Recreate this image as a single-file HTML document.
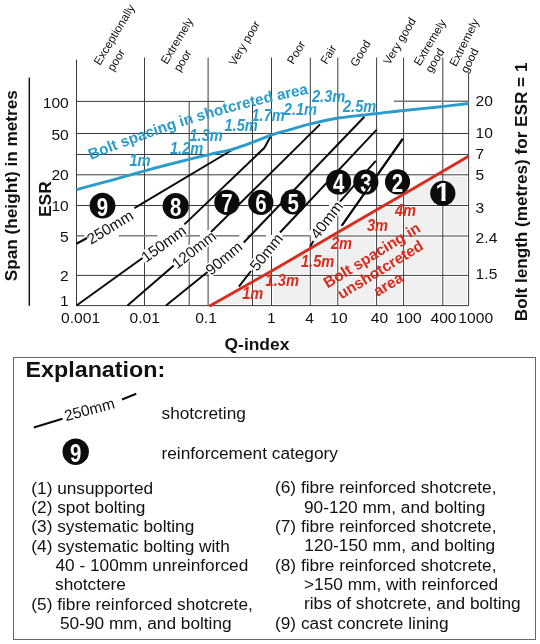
<!DOCTYPE html>
<html lang="en"><head><meta charset="utf-8"><title>Q-index support chart</title>
<style>html,body{margin:0;padding:0;background:#fff}svg{display:block}text{font-family:"Liberation Sans", Arial, sans-serif}</style></head><body>
<svg width="540" height="644" viewBox="0 0 540 644">
<rect width="540" height="644" fill="#fff"/>
<defs><clipPath id="gz"><polygon points="209.2,306.3 470.5,155.3 470.5,306.8"/></clipPath><clipPath id="c1"><path d="M-9,-20 H9 V-3.6 H2.5 V1 H-1.3 V-3.6 H-9 Z"/></clipPath></defs>
<polygon points="209.2,306.3 470.5,155.3 470.5,306.8" fill="#f0f0f0"/>
<g clip-path="url(#gz)" stroke="#fff" stroke-width="3.2" fill="none">
<line x1="76.5" y1="59.5" x2="76.5" y2="305.6"/>
<line x1="144.5" y1="57.5" x2="144.5" y2="305.6"/>
<line x1="189.2" y1="101.3" x2="189.2" y2="305.6"/>
<line x1="208.1" y1="57.5" x2="208.1" y2="305.6"/>
<line x1="252.5" y1="101.3" x2="252.5" y2="305.6"/>
<line x1="271.5" y1="57.5" x2="271.5" y2="305.6"/>
<line x1="310.3" y1="57.5" x2="310.3" y2="305.6"/>
<line x1="337.8" y1="57.5" x2="337.8" y2="305.6"/>
<line x1="376.6" y1="57.5" x2="376.6" y2="305.6"/>
<line x1="403.6" y1="57.5" x2="403.6" y2="305.6"/>
<line x1="442.8" y1="57.5" x2="442.8" y2="305.6"/>
<line x1="468.6" y1="72.5" x2="468.6" y2="305.6"/>
<line x1="76.5" y1="133.5" x2="468.6" y2="133.5"/>
<line x1="76.5" y1="154.5" x2="468.6" y2="154.5"/>
<line x1="76.5" y1="174.8" x2="468.6" y2="174.8"/>
<line x1="76.5" y1="205.5" x2="468.6" y2="205.5"/>
<line x1="76.5" y1="275.4" x2="468.6" y2="275.4"/>
<line x1="76.5" y1="305.6" x2="468.6" y2="305.6"/>
<line x1="76.5" y1="236" x2="468.6" y2="236"/>
</g>
<g stroke="#3c3c3c" stroke-width="1" fill="none">
<line x1="76.5" y1="59.5" x2="76.5" y2="305.6"/>
<line x1="144.5" y1="57.5" x2="144.5" y2="305.6"/>
<line x1="189.2" y1="101.3" x2="189.2" y2="305.6"/>
<line x1="208.1" y1="57.5" x2="208.1" y2="305.6"/>
<line x1="252.5" y1="101.3" x2="252.5" y2="305.6"/>
<line x1="271.5" y1="57.5" x2="271.5" y2="305.6"/>
<line x1="310.3" y1="57.5" x2="310.3" y2="305.6"/>
<line x1="337.8" y1="57.5" x2="337.8" y2="305.6"/>
<line x1="376.6" y1="57.5" x2="376.6" y2="305.6"/>
<line x1="403.6" y1="57.5" x2="403.6" y2="305.6"/>
<line x1="442.8" y1="57.5" x2="442.8" y2="305.6"/>
<line x1="468.6" y1="72.5" x2="468.6" y2="305.6"/>
<line x1="76.5" y1="133.5" x2="468.6" y2="133.5"/>
<line x1="76.5" y1="154.5" x2="468.6" y2="154.5"/>
<line x1="76.5" y1="174.8" x2="468.6" y2="174.8"/>
<line x1="76.5" y1="205.5" x2="468.6" y2="205.5"/>
<line x1="76.5" y1="275.4" x2="468.6" y2="275.4"/>
<line x1="76.5" y1="305.6" x2="468.6" y2="305.6"/>
<line x1="76.5" y1="101.4" x2="224.5" y2="101.4"/>
<line x1="329" y1="236" x2="468.6" y2="236"/>
</g>
<g stroke="#777" stroke-width="1.4" fill="none">
<line x1="394" y1="101.3" x2="468.6" y2="101.3"/>
<line x1="76.5" y1="235.8" x2="86" y2="235.8" stroke="#808080" stroke-width="1.6"/>
<line x1="118.75" y1="235.8" x2="157.5" y2="235.8" stroke="#808080" stroke-width="1.6"/>
<line x1="183.75" y1="235.8" x2="200" y2="235.8" stroke="#808080" stroke-width="1.6"/>
<line x1="211.9" y1="235.8" x2="239.3" y2="235.8" stroke="#808080" stroke-width="1.6"/>
<line x1="247.4" y1="235.8" x2="266" y2="235.8" stroke="#808080" stroke-width="1.6"/>
<line x1="282.6" y1="235.8" x2="311.3" y2="235.8" stroke="#808080" stroke-width="1.6"/>
</g>
<line x1="29.3" y1="77.6" x2="29.3" y2="305.8" stroke="#151515" stroke-width="1.5"/>
<g transform="translate(91,245) rotate(-31.5)"><rect x="-1" y="-11.934000000000001" width="52" height="13.158000000000001" fill="#fff"/><text x="0" y="0" font-size="15.3" fill="#111" font-weight="normal" font-style="normal" text-anchor="start" >250mm</text></g>
<g transform="translate(146,263) rotate(-36)"><rect x="-1" y="-11.934000000000001" width="52" height="13.158000000000001" fill="#fff"/><text x="0" y="0" font-size="15.3" fill="#111" font-weight="normal" font-style="normal" text-anchor="start" >150mm</text></g>
<g transform="translate(177,269.5) rotate(-38)"><rect x="-1" y="-11.934000000000001" width="52" height="13.158000000000001" fill="#fff"/><text x="0" y="0" font-size="15.3" fill="#111" font-weight="normal" font-style="normal" text-anchor="start" >120mm</text></g>
<g transform="translate(211,276) rotate(-40)"><rect x="-1" y="-11.934000000000001" width="44" height="13.158000000000001" fill="#fff"/><text x="0" y="0" font-size="15.3" fill="#111" font-weight="normal" font-style="normal" text-anchor="start" >90mm</text></g>
<g transform="translate(257,272) rotate(-51)"><rect x="-1" y="-11.934000000000001" width="44" height="13.158000000000001" fill="#fff"/><text x="0" y="0" font-size="15.3" fill="#111" font-weight="normal" font-style="normal" text-anchor="start" >50mm</text></g>
<g transform="translate(318,240) rotate(-53)"><rect x="-1" y="-11.934000000000001" width="44" height="13.158000000000001" fill="#fff"/><text x="0" y="0" font-size="15.3" fill="#111" font-weight="normal" font-style="normal" text-anchor="start" >40mm</text></g>
<g stroke="#0a0a0a" stroke-width="2.0" fill="none" stroke-linecap="butt">
<polyline points="76.5,243.75 87,238"/>
<polyline points="134.4,208.2 232.8,149.5"/>
<polyline points="76.5,305.5 142.5,258"/>
<polyline points="184.4,224.4 264.4,147.8 271.1,135.6"/>
<polyline points="127.5,305.5 173.75,265.5"/>
<polyline points="211,232 320,124.4"/>
<polyline points="166,305.5 207.5,272"/>
<polyline points="243.75,242.5 364.4,116.7"/>
<polyline points="238.9,286.7 251,271"/>
<polyline points="280,232.5 376.7,129.6"/>
<polyline points="310,246.7 313.5,241"/>
<polyline points="340,201.7 375.7,160.8"/>
<polyline points="341.7,225.8 402.7,138.9"/>
</g>
<path d="M76.5,189.7 C82.6,188.0 100.8,183.2 113.0,179.8 C125.2,176.4 137.3,172.8 150.0,169.4 C162.7,166.0 179.0,161.8 189.0,159.3 C199.0,156.8 202.7,156.0 210.0,154.3 C217.3,152.6 225.7,151.2 233.0,149.1 C240.3,147.0 247.2,144.3 253.7,141.9 C260.2,139.5 265.8,136.9 271.9,134.9 C277.9,132.9 283.6,131.5 290.0,129.7 C296.4,127.9 302.2,125.9 310.3,123.9 C318.4,122.0 329.3,119.5 338.3,118.0 C347.3,116.5 357.8,115.8 364.3,115.0 C370.8,114.2 370.6,114.2 377.2,113.5 C383.8,112.8 394.2,111.5 404.0,110.5 C413.8,109.5 425.2,108.4 436.0,107.2 C446.8,106.0 463.2,104.1 468.6,103.5" stroke="#2a9bcb" stroke-width="2.9" fill="none"/>
<polyline points="209.2,306.3 271.2,271.2 341,230.6 410,190.5 468.5,156.3" stroke="#d62d1e" stroke-width="2.9" fill="none"/>
<circle cx="102.5" cy="205.7" r="12.9" fill="#0c0c0c"/><text transform="translate(102.5,215.6) scale(0.8,1)" font-size="25.5" font-weight="bold" fill="#fff" text-anchor="middle">9</text>
<circle cx="175.7" cy="206" r="13.1" fill="#0c0c0c"/><text transform="translate(175.7,215.9) scale(0.8,1)" font-size="25.5" font-weight="bold" fill="#fff" text-anchor="middle">8</text>
<circle cx="226.9" cy="202.4" r="12.6" fill="#0c0c0c"/><text transform="translate(226.9,212.3) scale(0.8,1)" font-size="25.5" font-weight="bold" fill="#fff" text-anchor="middle">7</text>
<circle cx="260.8" cy="202.4" r="12.6" fill="#0c0c0c"/><text transform="translate(260.8,212.3) scale(0.8,1)" font-size="25.5" font-weight="bold" fill="#fff" text-anchor="middle">6</text>
<circle cx="293.1" cy="201.8" r="12.6" fill="#0c0c0c"/><text transform="translate(293.1,211.70000000000002) scale(0.8,1)" font-size="25.5" font-weight="bold" fill="#fff" text-anchor="middle">5</text>
<circle cx="338.6" cy="182" r="12.6" fill="#0c0c0c"/><text transform="translate(338.6,191.9) scale(0.8,1)" font-size="25.5" font-weight="bold" fill="#fff" text-anchor="middle">4</text>
<circle cx="365.8" cy="182" r="12.6" fill="#0c0c0c"/><text transform="translate(365.8,191.9) scale(0.8,1)" font-size="25.5" font-weight="bold" fill="#fff" text-anchor="middle">3</text>
<circle cx="397.5" cy="181.8" r="12.6" fill="#0c0c0c"/><text transform="translate(397.5,191.70000000000002) scale(0.8,1)" font-size="25.5" font-weight="bold" fill="#fff" text-anchor="middle">2</text>
<circle cx="442.8" cy="193.3" r="12.6" fill="#0c0c0c"/><g transform="translate(442.8,201.05) scale(1.1,1)" clip-path="url(#c1)"><text font-size="24.9" font-weight="bold" fill="#fff" text-anchor="middle">1</text></g>
<polyline points="341.7,225.8 402.7,138.9" stroke="#0a0a0a" stroke-width="2.0" fill="none"/>
<g font-size="15.1" fill="#111">
<text transform="translate(68.8,107.5) scale(1.035,1)" text-anchor="end">100</text>
<text transform="translate(68.8,139.5) scale(1.035,1)" text-anchor="end">50</text>
<text transform="translate(68.8,179.5) scale(1.035,1)" text-anchor="end">20</text>
<text transform="translate(68.8,210.7) scale(1.035,1)" text-anchor="end">10</text>
<text transform="translate(68.8,242) scale(1.035,1)" text-anchor="end">5</text>
<text transform="translate(68.8,281.3) scale(1.035,1)" text-anchor="end">2</text>
<text transform="translate(68.8,306.3) scale(1.035,1)" text-anchor="end">1</text>
<text transform="translate(475.6,106.2) scale(1.035,1)" text-anchor="start">20</text>
<text transform="translate(475.6,138.2) scale(1.035,1)" text-anchor="start">10</text>
<text transform="translate(475.6,158.7) scale(1.035,1)" text-anchor="start">7</text>
<text transform="translate(475.6,180.2) scale(1.035,1)" text-anchor="start">5</text>
<text transform="translate(475.6,212.7) scale(1.035,1)" text-anchor="start">3</text>
<text transform="translate(475.6,242.7) scale(1.035,1)" text-anchor="start">2.4</text>
<text transform="translate(475.6,279.2) scale(1.035,1)" text-anchor="start">1.5</text>
<text transform="translate(80.6,323.2) scale(1.035,1)" text-anchor="middle">0.001</text>
<text transform="translate(144.7,323.2) scale(1.035,1)" text-anchor="middle">0.01</text>
<text transform="translate(206,323.2) scale(1.035,1)" text-anchor="middle">0.1</text>
<text transform="translate(271.3,323.2) scale(1.035,1)" text-anchor="middle">1</text>
<text transform="translate(309.6,323.2) scale(1.035,1)" text-anchor="middle">4</text>
<text transform="translate(339,323.2) scale(1.035,1)" text-anchor="middle">10</text>
<text transform="translate(379.5,323.2) scale(1.035,1)" text-anchor="middle">40</text>
<text transform="translate(408.7,323.2) scale(1.035,1)" text-anchor="middle">100</text>
<text transform="translate(443.5,323.2) scale(1.035,1)" text-anchor="middle">400</text>
<text transform="translate(475.7,323.2) scale(1.035,1)" text-anchor="middle">1000</text>
</g>
<g font-size="17.4" font-weight="bold" fill="#111">
<text transform="translate(17.1,281.3) rotate(-90) scale(0.99,1)">Span (height) in metres</text>
<text transform="translate(50.5,217) rotate(-90)">ESR</text>
<text transform="translate(526.5,321.2) rotate(-90) scale(0.986,1)">Bolt length (metres) for ESR = 1</text>
<text x="224.6" y="349.8">Q-index</text>
</g>
<g font-size="11.6" fill="#111">
<text transform="translate(100,66) rotate(-59)">Exceptionally</text>
<text transform="translate(113.5,72) rotate(-59)">poor</text>
<text transform="translate(167,65) rotate(-59)">Extremely</text>
<text transform="translate(180,72.5) rotate(-59)">poor</text>
<text transform="translate(235,66.5) rotate(-59)">Very poor</text>
<text transform="translate(293.2,65) rotate(-59)">Poor</text>
<text transform="translate(326.7,65) rotate(-59)">Fair</text>
<text transform="translate(356.5,67.5) rotate(-59)">Good</text>
<text transform="translate(389.5,65.5) rotate(-59)">Very good</text>
<text transform="translate(420,66.5) rotate(-59)">Extremely</text>
<text transform="translate(431.5,73.5) rotate(-59)">good</text>
<text transform="translate(456,67.3) rotate(-63)">Extremely</text>
<text transform="translate(467.2,73.8) rotate(-63)">good</text>
</g>
<path id="bp" d="M90.8,160 Q197.6,116 306.7,94.1 L330,89.6" fill="none"/>
<text font-size="15.3" font-weight="bold" fill="#2a9bcb"><textPath href="#bp">Bolt spacing in shotcreted area</textPath></text>
<g font-size="15.8" font-weight="bold" font-style="italic" fill="#2a9bcb">
<text transform="translate(129.5,166.20000000000002) scale(0.925,1)">1m</text>
<text transform="translate(170,153.9) scale(0.925,1)">1.2m</text>
<text transform="translate(189.5,141.20000000000002) scale(0.925,1)">1.3m</text>
<text transform="translate(224.5,131.4) scale(0.925,1)">1.5m</text>
<text transform="translate(251.5,121.0) scale(0.925,1)">1.7m</text>
<text transform="translate(283.8,115.0) scale(0.925,1)">2.1m</text>
<text transform="translate(312,101.9) scale(0.925,1)">2.3m</text>
<text transform="translate(343,112.4) scale(0.925,1)">2.5m</text>
</g>
<g font-size="15.8" font-weight="bold" font-style="italic" fill="#d62d1e">
<text transform="translate(242.2,299.4) scale(0.925,1)">1m</text>
<text transform="translate(265.6,286.0) scale(0.925,1)">1.3m</text>
<text transform="translate(301,266.9) scale(0.925,1)">1.5m</text>
<text transform="translate(331,249.4) scale(0.925,1)">2m</text>
<text transform="translate(367,230.8) scale(0.925,1)">3m</text>
<text transform="translate(395,215.9) scale(0.925,1)">4m</text>
</g>
<g font-size="15.4" font-weight="bold" fill="#d62d1e">
<text transform="translate(327.5,288.5) rotate(-31.5)">Bolt spacing in</text>
<text transform="translate(341.5,299.5) rotate(-31.5)">unshotcreted</text>
<text transform="translate(377.5,297) rotate(-31.5)">area</text>
</g>
<rect x="13.5" y="357.5" width="522" height="282" fill="none" stroke="#666" stroke-width="1"/>
<text font-size="22.85" font-weight="bold" fill="#111" transform="translate(25.5,376.9) scale(1.02,1)">Explanation:</text>
<g stroke="#0a0a0a" stroke-width="1.9"><line x1="33.75" y1="427.5" x2="62.5" y2="418.75"/><line x1="122" y1="399.5" x2="136.25" y2="393.75"/></g>
<text transform="translate(66,421.3) rotate(-15)" font-size="15.4" fill="#111">250mm</text>
<circle cx="75.7" cy="451.7" r="13.2" fill="#0c0c0c"/><text transform="translate(75.7,461.59999999999997) scale(0.8,1)" font-size="25.5" font-weight="bold" fill="#fff" text-anchor="middle">9</text>
<g font-size="17.25" fill="#111">
<text x="161.5" y="418.75">shotcreting</text>
<text x="161.5" y="458.75">reinforcement category</text>
<text x="31.3" y="493.8">(1) unsupported</text>
<text x="31.3" y="513.1">(2) spot bolting</text>
<text x="31.3" y="532.4">(3) systematic bolting</text>
<text x="31.3" y="551.6">(4) systematic bolting with</text>
<text x="55.5" y="570.9">40 - 100mm unreinforced</text>
<text x="55" y="590.2">shotctere</text>
<text x="31.3" y="609.5">(5) fibre reinforced shotcrete,</text>
<text x="60" y="628.8">50-90 mm, and bolting</text>
<text x="275" y="493.4">(6) fibre reinforced shotcrete,</text>
<text x="304" y="512.7">90-120 mm, and bolting</text>
<text x="275" y="532.1">(7) fibre reinforced shotcrete,</text>
<text x="304.3" y="551.4">120-150 mm, and bolting</text>
<text x="275" y="570.7">(8) fibre reinforced shotcrete,</text>
<text x="304" y="590.0">&gt;150 mm, with reinforced</text>
<text x="304" y="609.4">ribs of shotcrete, and bolting</text>
<text x="275" y="628.7">(9) cast concrete lining</text>
</g>
</svg></body></html>
